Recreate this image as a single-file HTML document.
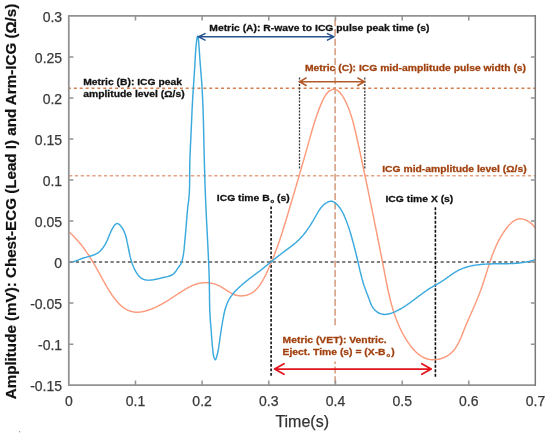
<!DOCTYPE html>
<html><head><meta charset="utf-8">
<style>
html,body{margin:0;padding:0;background:#fff;}
body{width:550px;height:435px;overflow:hidden;}
svg{display:block;}
.tk text{font-family:"Liberation Sans",Arial,sans-serif;font-size:14px;fill:#3a3a3a;stroke:#3a3a3a;stroke-width:0.25px;}
.an{font-family:"Liberation Sans",Arial,sans-serif;font-size:10.35px;font-weight:bold;}
</style></head><body>
<svg width="550" height="435" viewBox="0 0 550 435">
<rect width="550" height="435" fill="#fff"/>
<!-- reference lines -->
<path d="M68.8 88.3H535.5" stroke="#d5804c" stroke-width="1.5" stroke-dasharray="3 2.89" stroke-dashoffset="0.87" fill="none"/>
<path d="M68.8 175.8H535.5" stroke="#e3a384" stroke-width="1.5" stroke-dasharray="3.3 2.508" stroke-dashoffset="-0.25" fill="none"/>
<path d="M68.8 262.1H535.5" stroke="#555" stroke-width="1.5" stroke-dasharray="3.2 2.59" stroke-dashoffset="-1.21" fill="none"/>
<path d="M335.1 15.9V385.2" stroke="#cf9272" stroke-width="1.4" stroke-dasharray="7 2.644" stroke-dashoffset="-3.47" fill="none"/>
<path d="M299.5 77.5V170M364.8 77.5V170" stroke="#3a3a3a" stroke-width="1.3" stroke-dasharray="2 1.3" fill="none"/>
<path d="M271.1 206.5V376" stroke="#111" stroke-width="1.6" stroke-dasharray="2.8 1.7" fill="none"/>
<path d="M435.4 207.2V377.4" stroke="#111" stroke-width="1.6" stroke-dasharray="3.1 1.4" fill="none"/>
<!-- curves -->
<path d="M68.9 231.8 L69.5 232.3 70.0 232.8 70.5 233.3 71.0 233.8 71.6 234.3 72.1 234.8 72.6 235.3 73.1 235.8 73.6 236.3 74.0 236.8 74.5 237.3 75.0 237.8 75.5 238.3 75.9 238.8 76.4 239.3 76.9 239.8 77.3 240.3 77.8 240.8 78.2 241.3 78.6 241.8 79.1 242.3 79.5 242.8 79.9 243.3 80.4 243.8 80.8 244.3 81.2 244.8 81.6 245.4 82.0 245.9 82.4 246.4 82.8 246.9 83.2 247.4 83.6 247.9 84.0 248.5 84.4 249.0 84.7 249.5 85.1 250.0 85.5 250.6 85.9 251.1 86.2 251.6 86.6 252.1 87.0 252.7 87.3 253.2 87.7 253.7 88.0 254.3 88.4 254.8 88.7 255.3 89.1 255.9 89.4 256.4 89.8 256.9 90.1 257.5 90.5 258.0 90.8 258.6 91.1 259.1 91.5 259.7 91.8 260.2 92.1 260.8 92.5 261.3 92.8 261.9 93.1 262.4 93.5 263.0 93.8 263.5 94.1 264.1 94.4 264.6 94.8 265.2 95.1 265.8 95.4 266.3 95.7 266.9 96.1 267.5 96.4 268.0 96.7 268.6 97.0 269.2 97.3 269.8 97.7 270.3 98.0 270.9 98.3 271.5 98.6 272.1 99.0 272.7 99.3 273.2 99.6 273.8 99.9 274.4 100.3 275.0 100.6 275.6 100.9 276.2 101.2 276.8 101.6 277.4 101.9 278.0 102.2 278.6 102.6 279.2 102.9 279.8 103.2 280.4 103.6 281.0 103.9 281.6 104.3 282.2 104.6 282.9 104.9 283.5 105.3 284.1 105.6 284.7 106.0 285.3 106.4 285.9 106.7 286.5 107.1 287.2 107.4 287.8 107.8 288.4 108.2 289.0 108.5 289.6 108.9 290.2 109.3 290.8 109.7 291.4 110.0 292.0 110.4 292.6 110.8 293.2 111.2 293.8 111.6 294.4 112.0 295.0 112.4 295.6 112.8 296.1 113.2 296.7 113.6 297.3 114.0 297.8 114.4 298.4 114.8 298.9 115.3 299.4 115.7 300.0 116.1 300.5 116.5 301.0 117.0 301.5 117.4 302.0 117.9 302.5 118.3 303.0 118.8 303.5 119.2 303.9 119.7 304.4 120.2 304.8 120.6 305.3 121.1 305.7 121.6 306.1 122.1 306.5 122.6 306.9 123.1 307.3 123.6 307.6 124.1 308.0 124.6 308.3 125.1 308.7 125.6 309.0 126.1 309.3 126.7 309.6 127.2 309.9 127.8 310.1 128.3 310.4 128.9 310.6 129.4 310.8 130.0 311.0 130.5 311.2 131.1 311.4 131.7 311.6 132.3 311.7 132.9 311.8 133.5 311.9 134.1 312.0 134.7 312.1 135.3 312.2 135.9 312.2 136.6 312.2 137.2 312.2 137.9 312.2 138.5 312.2 139.2 312.1 139.8 312.1 140.5 312.0 141.1 311.9 141.8 311.8 142.5 311.7 143.1 311.5 143.8 311.4 144.5 311.2 145.2 311.1 145.8 310.9 146.5 310.7 147.2 310.5 147.9 310.3 148.6 310.0 149.2 309.8 149.9 309.6 150.6 309.3 151.3 309.1 151.9 308.8 152.6 308.5 153.2 308.2 153.9 308.0 154.6 307.7 155.2 307.4 155.9 307.1 156.5 306.8 157.1 306.5 157.8 306.2 158.4 305.9 159.0 305.5 159.6 305.2 160.2 304.9 160.8 304.6 161.4 304.3 162.0 304.0 162.5 303.6 163.1 303.3 163.7 303.0 164.2 302.7 164.8 302.3 165.4 302.0 165.9 301.7 166.5 301.3 167.0 301.0 167.6 300.6 168.1 300.3 168.6 300.0 169.2 299.6 169.7 299.3 170.2 298.9 170.8 298.6 171.3 298.2 171.9 297.9 172.4 297.5 172.9 297.2 173.5 296.8 174.0 296.5 174.5 296.1 175.1 295.8 175.6 295.4 176.2 295.0 176.7 294.7 177.3 294.3 177.8 293.9 178.4 293.6 178.9 293.2 179.5 292.8 180.1 292.5 180.7 292.1 181.2 291.7 181.8 291.4 182.4 291.0 183.0 290.6 183.6 290.3 184.2 289.9 184.8 289.5 185.4 289.2 186.0 288.9 186.6 288.5 187.2 288.2 187.8 287.8 188.4 287.5 189.0 287.2 189.6 286.9 190.3 286.6 190.9 286.3 191.5 286.0 192.1 285.7 192.7 285.4 193.4 285.2 194.0 284.9 194.6 284.7 195.3 284.5 195.9 284.2 196.5 284.0 197.2 283.9 197.8 283.7 198.4 283.5 199.1 283.4 199.7 283.2 200.4 283.1 201.0 283.0 201.6 282.9 202.3 282.8 202.9 282.7 203.6 282.7 204.2 282.7 204.8 282.6 205.5 282.6 206.1 282.6 206.8 282.6 207.4 282.7 208.0 282.7 208.7 282.8 209.3 282.9 209.9 282.9 210.6 283.1 211.2 283.2 211.8 283.3 212.5 283.4 213.1 283.6 213.7 283.8 214.3 283.9 215.0 284.1 215.6 284.4 216.2 284.6 216.8 284.8 217.4 285.1 218.0 285.3 218.6 285.6 219.3 285.9 219.9 286.2 220.5 286.5 221.0 286.8 221.6 287.2 222.2 287.5 222.8 287.9 223.4 288.3 224.0 288.6 224.6 289.0 225.2 289.4 225.8 289.8 226.3 290.2 226.9 290.5 227.5 290.9 228.1 291.3 228.7 291.7 229.3 292.0 229.9 292.4 230.5 292.7 231.1 293.1 231.7 293.4 232.3 293.7 232.9 294.0 233.5 294.3 234.1 294.5 234.8 294.8 235.4 295.0 236.0 295.2 236.7 295.3 237.3 295.5 238.0 295.6 238.6 295.7 239.3 295.8 240.0 295.8 240.6 295.9 241.3 295.9 241.9 295.9 242.6 295.8 243.3 295.8 243.9 295.7 244.6 295.6 245.2 295.5 245.8 295.4 246.5 295.2 247.1 295.0 247.7 294.9 248.3 294.6 248.9 294.4 249.5 294.2 250.1 293.9 250.6 293.6 251.2 293.3 251.7 293.0 252.2 292.7 252.8 292.3 253.3 292.0 253.8 291.6 254.3 291.2 254.7 290.8 255.2 290.4 255.7 289.9 256.1 289.5 256.6 289.0 257.0 288.5 257.5 288.1 257.9 287.6 258.3 287.1 258.7 286.6 259.1 286.0 259.5 285.5 259.9 285.0 260.3 284.4 260.6 283.9 261.0 283.3 261.4 282.7 261.7 282.1 262.1 281.6 262.4 281.0 262.8 280.4 263.1 279.8 263.4 279.2 263.8 278.5 264.1 277.9 264.4 277.3 264.7 276.7 265.1 276.1 265.4 275.4 265.7 274.8 266.0 274.2 266.3 273.6 266.6 272.9 266.9 272.3 267.2 271.7 267.5 271.1 267.7 270.4 268.0 269.8 268.3 269.2 268.6 268.5 268.9 267.9 269.2 267.3 269.4 266.7 269.7 266.0 270.0 265.4 270.3 264.8 270.5 264.2 270.8 263.5 271.1 262.9 271.3 262.3 271.6 261.7 271.8 261.0 272.1 260.4 272.4 259.8 272.6 259.2 272.9 258.5 273.1 257.9 273.4 257.3 273.6 256.7 273.9 256.0 274.1 255.4 274.4 254.8 274.6 254.2 274.8 253.5 275.1 252.9 275.3 252.3 275.6 251.7 275.8 251.1 276.0 250.4 276.2 249.8 276.5 249.2 276.7 248.6 276.9 247.9 277.2 247.3 277.4 246.7 277.6 246.1 277.8 245.4 278.1 244.8 278.3 244.2 278.5 243.6 278.7 242.9 278.9 242.3 279.1 241.7 279.4 241.1 279.6 240.5 279.8 239.8 280.0 239.2 280.2 238.6 280.4 238.0 280.6 237.3 280.8 236.7 281.0 236.1 281.2 235.5 281.4 234.8 281.6 234.2 281.8 233.6 282.0 233.0 282.3 232.3 282.5 231.7 282.7 231.1 282.8 230.5 283.0 229.8 283.2 229.2 283.4 228.6 283.6 227.9 283.8 227.3 284.0 226.7 284.2 226.1 284.4 225.4 284.6 224.8 284.8 224.2 285.0 223.5 285.2 222.9 285.4 222.3 285.6 221.7 285.8 221.0 286.0 220.4 286.1 219.8 286.3 219.1 286.5 218.5 286.7 217.9 286.9 217.2 287.1 216.6 287.3 216.0 287.5 215.3 287.7 214.7 287.8 214.1 288.0 213.4 288.2 212.8 288.4 212.2 288.6 211.5 288.8 210.9 289.0 210.2 289.2 209.6 289.4 209.0 289.5 208.3 289.7 207.7 289.9 207.1 290.1 206.4 290.3 205.8 290.5 205.1 290.7 204.5 290.9 203.8 291.0 203.2 291.2 202.6 291.4 201.9 291.6 201.3 291.8 200.6 292.0 200.0 292.2 199.3 292.4 198.7 292.6 198.0 292.8 197.4 292.9 196.8 293.1 196.1 293.3 195.5 293.5 194.8 293.7 194.2 293.9 193.5 294.1 192.9 294.3 192.2 294.5 191.6 294.7 190.9 294.9 190.3 295.0 189.6 295.2 189.0 295.4 188.3 295.6 187.7 295.8 187.0 296.0 186.4 296.2 185.7 296.4 185.1 296.6 184.4 296.8 183.8 296.9 183.1 297.1 182.5 297.3 181.8 297.5 181.2 297.7 180.5 297.9 179.9 298.1 179.2 298.3 178.6 298.5 177.9 298.7 177.3 298.8 176.6 299.0 176.0 299.2 175.3 299.4 174.7 299.6 174.0 299.8 173.4 300.0 172.7 300.2 172.1 300.4 171.4 300.5 170.8 300.7 170.1 300.9 169.5 301.1 168.9 301.3 168.2 301.5 167.6 301.7 166.9 301.9 166.3 302.0 165.6 302.2 165.0 302.4 164.3 302.6 163.7 302.8 163.0 303.0 162.4 303.2 161.8 303.3 161.1 303.5 160.5 303.7 159.8 303.9 159.2 304.1 158.5 304.3 157.9 304.4 157.3 304.6 156.6 304.8 156.0 305.0 155.3 305.2 154.7 305.4 154.1 305.5 153.4 305.7 152.8 305.9 152.2 306.1 151.5 306.3 150.9 306.4 150.3 306.6 149.6 306.8 149.0 307.0 148.4 307.2 147.7 307.3 147.1 307.5 146.5 307.7 145.8 307.9 145.2 308.0 144.6 308.2 144.0 308.4 143.3 308.6 142.7 308.7 142.1 308.9 141.5 309.1 140.8 309.3 140.2 309.4 139.6 309.6 139.0 309.8 138.4 310.0 137.7 310.1 137.1 310.3 136.5 310.5 135.9 310.7 135.3 310.8 134.6 311.0 134.0 311.2 133.4 311.4 132.8 311.5 132.2 311.7 131.6 311.9 130.9 312.1 130.3 312.2 129.7 312.4 129.1 312.6 128.4 312.8 127.8 313.0 127.2 313.2 126.6 313.4 126.0 313.5 125.3 313.7 124.7 313.9 124.1 314.1 123.4 314.3 122.8 314.5 122.2 314.7 121.5 314.9 120.9 315.1 120.3 315.3 119.6 315.6 119.0 315.8 118.3 316.0 117.7 316.2 117.1 316.4 116.4 316.7 115.7 316.9 115.1 317.1 114.4 317.3 113.8 317.6 113.1 317.8 112.5 318.1 111.8 318.3 111.1 318.6 110.4 318.8 109.8 319.1 109.1 319.3 108.4 319.6 107.7 319.9 107.0 320.2 106.4 320.4 105.7 320.7 105.0 321.0 104.3 321.3 103.6 321.6 102.9 321.9 102.2 322.2 101.5 322.5 100.8 322.8 100.1 323.2 99.4 323.5 98.8 323.8 98.1 324.2 97.5 324.5 96.9 324.9 96.3 325.2 95.7 325.6 95.1 326.0 94.5 326.4 94.0 326.8 93.5 327.2 93.0 327.6 92.5 328.0 92.1 328.5 91.7 328.9 91.3 329.4 90.9 329.8 90.6 330.3 90.3 330.8 90.1 331.3 89.8 331.8 89.6 332.3 89.5 332.8 89.4 333.3 89.3 333.8 89.3 334.2 89.3 334.7 89.4 335.2 89.5 335.7 89.6 336.2 89.8 336.6 90.0 337.1 90.2 337.5 90.5 338.0 90.8 338.4 91.2 338.8 91.5 339.3 91.9 339.7 92.3 340.1 92.8 340.5 93.3 340.9 93.8 341.3 94.3 341.7 94.8 342.1 95.4 342.5 95.9 342.9 96.5 343.2 97.1 343.6 97.7 344.0 98.4 344.3 99.0 344.6 99.6 345.0 100.3 345.3 100.9 345.6 101.6 346.0 102.3 346.3 102.9 346.6 103.6 346.9 104.3 347.2 104.9 347.5 105.6 347.7 106.3 348.0 106.9 348.3 107.6 348.6 108.2 348.8 108.9 349.1 109.6 349.3 110.2 349.6 110.9 349.8 111.5 350.0 112.2 350.2 112.8 350.5 113.5 350.7 114.1 350.9 114.8 351.1 115.4 351.3 116.1 351.5 116.7 351.7 117.3 351.9 118.0 352.1 118.6 352.3 119.3 352.5 119.9 352.7 120.6 352.8 121.2 353.0 121.8 353.2 122.5 353.3 123.1 353.5 123.7 353.7 124.4 353.8 125.0 354.0 125.7 354.2 126.3 354.3 126.9 354.5 127.6 354.6 128.2 354.8 128.9 354.9 129.5 355.1 130.1 355.2 130.8 355.4 131.4 355.5 132.0 355.7 132.7 355.8 133.3 355.9 134.0 356.1 134.6 356.2 135.2 356.4 135.9 356.5 136.5 356.7 137.2 356.8 137.8 357.0 138.4 357.1 139.1 357.2 139.7 357.4 140.4 357.5 141.0 357.7 141.7 357.8 142.3 358.0 142.9 358.1 143.6 358.2 144.2 358.4 144.9 358.5 145.5 358.7 146.2 358.8 146.8 359.0 147.5 359.1 148.1 359.2 148.8 359.4 149.4 359.5 150.0 359.7 150.7 359.8 151.3 359.9 152.0 360.1 152.6 360.2 153.3 360.4 153.9 360.5 154.6 360.6 155.2 360.8 155.9 360.9 156.5 361.1 157.2 361.2 157.8 361.3 158.5 361.5 159.1 361.6 159.8 361.8 160.5 361.9 161.1 362.0 161.8 362.2 162.4 362.3 163.1 362.5 163.7 362.6 164.4 362.7 165.0 362.9 165.7 363.0 166.3 363.2 167.0 363.3 167.6 363.4 168.3 363.6 168.9 363.7 169.6 363.8 170.3 364.0 170.9 364.1 171.6 364.3 172.2 364.4 172.9 364.5 173.5 364.7 174.2 364.8 174.8 365.0 175.5 365.1 176.2 365.2 176.8 365.4 177.5 365.5 178.1 365.6 178.8 365.8 179.4 365.9 180.1 366.0 180.7 366.2 181.4 366.3 182.1 366.5 182.7 366.6 183.4 366.7 184.0 366.9 184.7 367.0 185.3 367.1 186.0 367.3 186.6 367.4 187.3 367.5 188.0 367.7 188.6 367.8 189.3 368.0 189.9 368.1 190.6 368.2 191.2 368.4 191.9 368.5 192.6 368.6 193.2 368.8 193.9 368.9 194.5 369.0 195.2 369.2 195.8 369.3 196.5 369.4 197.1 369.6 197.8 369.7 198.5 369.8 199.1 370.0 199.8 370.1 200.4 370.2 201.1 370.4 201.7 370.5 202.4 370.6 203.0 370.8 203.7 370.9 204.4 371.1 205.0 371.2 205.7 371.3 206.3 371.5 207.0 371.6 207.6 371.7 208.3 371.9 208.9 372.0 209.6 372.1 210.2 372.3 210.9 372.4 211.6 372.5 212.2 372.7 212.9 372.8 213.5 372.9 214.2 373.1 214.8 373.2 215.5 373.3 216.1 373.5 216.8 373.6 217.4 373.7 218.1 373.8 218.7 374.0 219.4 374.1 220.1 374.2 220.7 374.4 221.4 374.5 222.0 374.6 222.7 374.8 223.3 374.9 224.0 375.0 224.6 375.2 225.3 375.3 225.9 375.4 226.6 375.6 227.2 375.7 227.9 375.8 228.5 376.0 229.2 376.1 229.9 376.2 230.5 376.4 231.2 376.5 231.8 376.6 232.5 376.7 233.1 376.9 233.8 377.0 234.4 377.1 235.1 377.3 235.7 377.4 236.4 377.5 237.0 377.7 237.7 377.8 238.3 377.9 239.0 378.1 239.7 378.2 240.3 378.3 241.0 378.4 241.6 378.6 242.3 378.7 242.9 378.8 243.6 379.0 244.2 379.1 244.9 379.2 245.5 379.4 246.2 379.5 246.8 379.6 247.5 379.7 248.1 379.9 248.8 380.0 249.5 380.1 250.1 380.3 250.8 380.4 251.4 380.5 252.1 380.6 252.7 380.8 253.4 380.9 254.0 381.0 254.7 381.2 255.3 381.3 256.0 381.4 256.6 381.5 257.3 381.7 258.0 381.8 258.6 381.9 259.3 382.1 259.9 382.2 260.6 382.3 261.2 382.4 261.9 382.6 262.5 382.7 263.2 382.8 263.8 383.0 264.5 383.1 265.1 383.2 265.8 383.3 266.5 383.5 267.1 383.6 267.8 383.7 268.4 383.8 269.1 384.0 269.7 384.1 270.4 384.2 271.0 384.4 271.7 384.5 272.4 384.6 273.0 384.7 273.7 384.9 274.3 385.0 275.0 385.1 275.6 385.2 276.3 385.4 276.9 385.5 277.6 385.6 278.3 385.8 278.9 385.9 279.6 386.0 280.2 386.1 280.9 386.3 281.5 386.4 282.2 386.5 282.8 386.7 283.5 386.8 284.2 386.9 284.8 387.1 285.5 387.2 286.1 387.3 286.8 387.5 287.4 387.6 288.1 387.7 288.7 387.9 289.4 388.0 290.0 388.2 290.7 388.3 291.3 388.5 292.0 388.6 292.6 388.7 293.3 388.9 293.9 389.0 294.6 389.2 295.2 389.3 295.9 389.5 296.5 389.6 297.2 389.8 297.8 390.0 298.5 390.1 299.1 390.3 299.8 390.4 300.4 390.6 301.1 390.8 301.7 390.9 302.4 391.1 303.0 391.3 303.6 391.5 304.3 391.6 304.9 391.8 305.6 392.0 306.2 392.2 306.8 392.4 307.5 392.6 308.1 392.7 308.8 392.9 309.4 393.1 310.0 393.3 310.7 393.5 311.3 393.7 311.9 393.9 312.6 394.1 313.2 394.3 313.8 394.6 314.5 394.8 315.1 395.0 315.7 395.2 316.3 395.4 317.0 395.7 317.6 395.9 318.2 396.1 318.8 396.4 319.5 396.6 320.1 396.8 320.7 397.1 321.3 397.3 321.9 397.6 322.6 397.8 323.2 398.1 323.8 398.4 324.4 398.6 325.0 398.9 325.6 399.2 326.2 399.4 326.8 399.7 327.5 400.0 328.1 400.3 328.7 400.6 329.3 400.9 329.9 401.2 330.5 401.5 331.1 401.8 331.7 402.1 332.3 402.4 332.9 402.7 333.5 403.0 334.1 403.4 334.7 403.7 335.2 404.0 335.8 404.4 336.4 404.7 337.0 405.0 337.6 405.4 338.2 405.8 338.8 406.1 339.3 406.5 339.9 406.8 340.5 407.2 341.1 407.6 341.7 408.0 342.2 408.4 342.8 408.8 343.4 409.2 343.9 409.6 344.5 410.0 345.1 410.4 345.6 410.8 346.2 411.2 346.7 411.6 347.2 412.1 347.8 412.5 348.3 413.0 348.8 413.4 349.3 413.9 349.8 414.3 350.3 414.8 350.8 415.3 351.3 415.7 351.8 416.2 352.2 416.7 352.7 417.2 353.1 417.7 353.6 418.2 354.0 418.7 354.4 419.2 354.8 419.7 355.2 420.3 355.5 420.8 355.9 421.3 356.3 421.9 356.6 422.4 356.9 423.0 357.2 423.6 357.5 424.1 357.8 424.7 358.0 425.3 358.3 425.9 358.5 426.5 358.7 427.1 358.9 427.7 359.0 428.3 359.2 429.0 359.3 429.6 359.4 430.2 359.5 430.9 359.6 431.5 359.7 432.2 359.7 432.8 359.7 433.5 359.7 434.1 359.7 434.8 359.7 435.4 359.6 436.1 359.6 436.8 359.5 437.4 359.4 438.1 359.3 438.7 359.2 439.4 359.0 440.1 358.8 440.7 358.7 441.4 358.5 442.0 358.3 442.6 358.0 443.3 357.8 443.9 357.6 444.5 357.3 445.1 357.0 445.7 356.7 446.3 356.4 446.9 356.1 447.5 355.7 448.0 355.4 448.6 355.0 449.1 354.6 449.7 354.2 450.2 353.8 450.7 353.4 451.2 353.0 451.7 352.6 452.1 352.1 452.6 351.6 453.0 351.2 453.5 350.7 453.9 350.2 454.3 349.7 454.7 349.2 455.1 348.6 455.5 348.1 455.8 347.5 456.2 347.0 456.5 346.4 456.9 345.9 457.2 345.3 457.6 344.7 457.9 344.1 458.2 343.5 458.5 342.9 458.8 342.3 459.1 341.7 459.4 341.1 459.7 340.5 460.0 339.9 460.2 339.2 460.5 338.6 460.8 338.0 461.1 337.3 461.3 336.7 461.6 336.1 461.8 335.4 462.1 334.8 462.4 334.1 462.6 333.5 462.9 332.9 463.1 332.2 463.4 331.6 463.6 330.9 463.9 330.3 464.1 329.6 464.4 329.0 464.6 328.4 464.9 327.7 465.2 327.1 465.4 326.5 465.7 325.9 465.9 325.2 466.2 324.6 466.5 324.0 466.7 323.4 467.0 322.7 467.3 322.1 467.5 321.5 467.8 320.9 468.0 320.3 468.3 319.6 468.6 319.0 468.8 318.4 469.1 317.8 469.4 317.2 469.7 316.6 469.9 316.0 470.2 315.4 470.5 314.8 470.7 314.2 471.0 313.6 471.3 312.9 471.5 312.3 471.8 311.7 472.1 311.1 472.3 310.5 472.6 309.9 472.9 309.3 473.1 308.7 473.4 308.1 473.7 307.5 473.9 306.9 474.2 306.3 474.4 305.7 474.7 305.1 475.0 304.5 475.2 303.9 475.5 303.3 475.7 302.7 476.0 302.1 476.3 301.5 476.5 300.9 476.8 300.3 477.0 299.7 477.3 299.0 477.5 298.4 477.8 297.8 478.0 297.2 478.3 296.6 478.5 296.0 478.7 295.4 479.0 294.8 479.2 294.2 479.5 293.5 479.7 292.9 479.9 292.3 480.2 291.7 480.4 291.1 480.6 290.5 480.9 289.8 481.1 289.2 481.3 288.6 481.5 288.0 481.7 287.3 482.0 286.7 482.2 286.1 482.4 285.4 482.6 284.8 482.8 284.2 483.0 283.5 483.2 282.9 483.4 282.3 483.7 281.6 483.9 281.0 484.1 280.4 484.3 279.7 484.5 279.1 484.7 278.4 484.9 277.8 485.1 277.2 485.3 276.5 485.5 275.9 485.7 275.2 485.9 274.6 486.1 274.0 486.3 273.3 486.5 272.7 486.7 272.0 486.9 271.4 487.1 270.7 487.3 270.1 487.5 269.5 487.7 268.8 487.9 268.2 488.1 267.5 488.3 266.9 488.5 266.2 488.7 265.6 489.0 265.0 489.2 264.3 489.4 263.7 489.6 263.0 489.8 262.4 490.0 261.8 490.2 261.1 490.4 260.5 490.7 259.8 490.9 259.2 491.1 258.6 491.3 257.9 491.6 257.3 491.8 256.7 492.0 256.0 492.2 255.4 492.5 254.8 492.7 254.1 493.0 253.5 493.2 252.9 493.4 252.3 493.7 251.6 493.9 251.0 494.2 250.4 494.4 249.8 494.7 249.2 495.0 248.5 495.2 247.9 495.5 247.3 495.8 246.7 496.0 246.1 496.3 245.5 496.6 244.9 496.9 244.3 497.1 243.7 497.4 243.1 497.7 242.5 498.0 241.9 498.3 241.3 498.6 240.7 498.9 240.1 499.3 239.5 499.6 238.9 499.9 238.3 500.2 237.7 500.6 237.2 500.9 236.6 501.2 236.0 501.6 235.4 501.9 234.9 502.3 234.3 502.6 233.7 503.0 233.2 503.4 232.6 503.7 232.1 504.1 231.5 504.5 231.0 504.9 230.4 505.3 229.9 505.7 229.3 506.1 228.8 506.5 228.2 506.9 227.7 507.3 227.2 507.8 226.7 508.2 226.1 508.6 225.6 509.1 225.1 509.5 224.6 510.0 224.2 510.5 223.7 510.9 223.2 511.4 222.8 511.9 222.4 512.4 222.0 512.9 221.6 513.4 221.2 513.9 220.9 514.5 220.6 515.0 220.3 515.5 220.0 516.1 219.7 516.6 219.5 517.2 219.3 517.8 219.2 518.3 219.0 518.9 218.9 519.5 218.9 520.1 218.8 520.8 218.8 521.4 218.9 522.0 218.9 522.6 219.1 523.3 219.2 523.9 219.4 524.6 219.6 525.2 219.8 525.9 220.1 526.5 220.4 527.2 220.7 527.8 221.1 528.4 221.5 529.0 221.9 529.7 222.3 530.2 222.7 530.8 223.2 531.4 223.6 531.9 224.1 532.5 224.6 533.0 225.1 533.5 225.7 533.9 226.2 534.4 226.8 534.8 227.3 535.2 227.9 535.5 228.5" stroke="#fc9a7b" stroke-width="1.45" fill="none" stroke-linejoin="round"/>
<path d="M68.8 262.5 L69.5 262.4 70.1 262.4 70.8 262.3 71.4 262.1 72.1 262.0 72.7 261.9 73.4 261.7 74.0 261.5 74.6 261.3 75.3 261.1 75.9 260.9 76.5 260.6 77.1 260.4 77.8 260.2 78.4 259.9 79.0 259.7 79.6 259.4 80.3 259.2 80.9 258.9 81.5 258.7 82.2 258.5 82.8 258.2 83.4 258.0 84.1 257.8 84.7 257.6 85.3 257.4 86.0 257.3 86.6 257.1 87.3 256.9 87.9 256.7 88.5 256.6 89.2 256.4 89.8 256.2 90.4 256.0 91.1 255.9 91.7 255.7 92.3 255.5 92.9 255.3 93.5 255.1 94.1 254.8 94.7 254.6 95.3 254.3 95.9 254.0 96.4 253.7 97.0 253.4 97.6 253.1 98.1 252.7 98.6 252.3 99.2 251.9 99.7 251.5 100.2 251.0 100.6 250.5 101.1 250.0 101.6 249.5 102.0 249.0 102.5 248.4 102.9 247.9 103.3 247.3 103.7 246.7 104.1 246.1 104.5 245.5 104.9 244.9 105.2 244.3 105.6 243.7 105.9 243.1 106.2 242.5 106.5 241.9 106.8 241.3 107.0 240.7 107.3 240.1 107.6 239.6 107.8 239.0 108.1 238.4 108.3 237.8 108.5 237.2 108.8 236.6 109.0 236.0 109.2 235.4 109.5 234.9 109.7 234.3 110.0 233.7 110.2 233.1 110.5 232.5 110.8 231.9 111.0 231.2 111.3 230.6 111.7 230.0 112.0 229.4 112.3 228.8 112.7 228.1 113.1 227.5 113.5 226.8 113.9 226.2 114.3 225.6 114.8 225.0 115.2 224.5 115.7 224.1 116.2 223.8 116.7 223.6 117.2 223.5 117.8 223.6 118.3 223.8 118.8 224.1 119.3 224.5 119.8 225.0 120.3 225.5 120.8 226.1 121.2 226.7 121.7 227.2 122.1 227.8 122.5 228.4 122.8 229.0 123.2 229.6 123.5 230.2 123.8 230.8 124.1 231.4 124.3 232.1 124.6 232.7 124.8 233.3 125.1 233.9 125.3 234.5 125.5 235.2 125.7 235.8 125.9 236.4 126.0 237.1 126.2 237.7 126.4 238.4 126.5 239.0 126.7 239.6 126.8 240.3 126.9 240.9 127.1 241.6 127.2 242.2 127.4 242.9 127.5 243.6 127.6 244.2 127.8 244.9 127.9 245.5 128.0 246.2 128.1 246.8 128.3 247.5 128.4 248.2 128.5 248.8 128.7 249.5 128.8 250.1 128.9 250.8 129.1 251.5 129.2 252.1 129.3 252.8 129.5 253.4 129.6 254.1 129.8 254.8 129.9 255.4 130.1 256.1 130.2 256.7 130.4 257.4 130.6 258.0 130.7 258.7 130.9 259.3 131.1 260.0 131.3 260.6 131.5 261.2 131.7 261.9 131.9 262.5 132.1 263.1 132.3 263.8 132.5 264.4 132.7 265.0 133.0 265.6 133.2 266.2 133.5 266.9 133.7 267.5 134.0 268.1 134.3 268.7 134.6 269.3 134.9 269.9 135.2 270.4 135.5 271.0 135.8 271.6 136.2 272.2 136.5 272.7 136.9 273.3 137.3 273.9 137.6 274.4 138.0 274.9 138.5 275.5 138.9 276.0 139.3 276.5 139.8 276.9 140.3 277.4 140.8 277.8 141.3 278.2 141.8 278.5 142.4 278.8 143.0 279.1 143.6 279.4 144.2 279.6 144.8 279.8 145.5 279.9 146.2 280.0 146.8 280.1 147.5 280.1 148.2 280.2 149.0 280.1 149.7 280.1 150.4 280.1 151.1 280.0 151.8 279.9 152.5 279.9 153.2 279.8 153.8 279.7 154.5 279.5 155.1 279.4 155.8 279.3 156.4 279.2 157.0 279.0 157.6 278.9 158.3 278.7 158.9 278.6 159.5 278.5 160.1 278.3 160.7 278.1 161.4 278.0 162.0 277.8 162.7 277.7 163.3 277.5 164.0 277.4 164.6 277.2 165.3 277.1 166.0 276.9 166.7 276.8 167.4 276.6 168.1 276.4 168.7 276.2 169.4 276.0 170.0 275.8 170.7 275.5 171.3 275.3 171.9 275.0 172.4 274.6 173.0 274.3 173.5 273.9 174.0 273.5 174.4 273.0 174.8 272.5 175.2 272.0 175.6 271.5 176.0 271.0 176.4 270.4 176.7 269.9 177.1 269.3 177.5 268.7 177.8 268.2 178.2 267.6 178.6 267.1 179.0 266.5 179.4 266.0 179.8 265.5 180.2 264.9 180.6 264.4 180.9 263.8 181.2 263.2 181.4 262.6 181.6 261.9 181.8 261.3 182.0 260.7 182.2 260.0 182.4 259.4 182.6 258.7 182.7 258.1 182.8 257.4 183.0 256.8 183.1 256.1 183.2 255.5 183.3 254.8 183.5 254.1 183.6 253.5 183.6 252.8 183.7 252.2 183.8 251.5 183.9 250.8 184.0 250.2 184.0 249.5 184.1 248.9 184.2 248.2 184.2 247.5 184.3 246.9 184.4 246.2 184.4 245.5 184.5 244.9 184.5 244.2 184.6 243.5 184.7 242.9 184.7 242.2 184.8 241.5 184.8 240.9 184.9 240.2 185.0 239.5 185.0 238.9 185.1 238.2 185.1 237.5 185.2 236.9 185.3 236.2 185.3 235.6 185.4 234.9 185.4 234.2 185.5 233.6 185.6 232.9 185.6 232.2 185.7 231.6 185.7 230.9 185.8 230.2 185.8 229.6 185.9 228.9 186.0 228.2 186.0 227.6 186.1 226.9 186.1 226.3 186.2 225.6 186.3 224.9 186.3 224.3 186.4 223.6 186.4 222.9 186.5 222.3 186.5 221.6 186.6 220.9 186.6 220.3 186.7 219.6 186.7 218.9 186.8 218.3 186.9 217.6 186.9 216.9 187.0 216.3 187.0 215.6 187.1 214.9 187.1 214.3 187.2 213.6 187.2 213.0 187.3 212.3 187.3 211.6 187.4 211.0 187.5 210.3 187.5 209.6 187.6 209.0 187.7 208.3 187.7 207.6 187.8 207.0 187.9 206.3 188.0 205.7 188.1 205.0 188.2 204.3 188.2 203.7 188.3 203.0 188.4 202.3 188.5 201.7 188.6 201.0 188.7 200.4 188.7 199.7 188.8 199.0 188.9 198.4 188.9 197.7 189.0 197.0 189.1 196.4 189.1 195.7 189.2 195.1 189.2 194.4 189.3 193.7 189.3 193.1 189.3 192.4 189.4 191.7 189.4 191.1 189.4 190.4 189.5 189.7 189.5 189.1 189.5 188.4 189.5 187.7 189.5 187.1 189.6 186.4 189.6 185.7 189.6 185.1 189.6 184.4 189.6 183.7 189.6 183.1 189.6 182.4 189.6 181.7 189.6 181.0 189.6 180.4 189.7 179.7 189.7 179.0 189.7 178.4 189.7 177.7 189.7 177.0 189.7 176.4 189.7 175.7 189.7 175.0 189.7 174.4 189.7 173.7 189.7 173.0 189.7 172.4 189.7 171.7 189.7 171.0 189.7 170.4 189.7 169.7 189.7 169.0 189.7 168.4 189.7 167.7 189.7 167.0 189.7 166.3 189.8 165.7 189.8 165.0 189.8 164.3 189.8 163.7 189.8 163.0 189.8 162.3 189.8 161.7 189.9 161.0 189.9 160.3 189.9 159.7 189.9 159.0 189.9 158.3 190.0 157.7 190.0 157.0 190.0 156.3 190.0 155.7 190.1 155.0 190.1 154.3 190.1 153.7 190.1 153.0 190.2 152.4 190.2 151.7 190.2 151.0 190.3 150.4 190.3 149.7 190.3 149.0 190.3 148.4 190.4 147.7 190.4 147.0 190.4 146.4 190.5 145.7 190.5 145.0 190.5 144.4 190.6 143.7 190.6 143.0 190.6 142.4 190.7 141.7 190.7 141.0 190.7 140.4 190.8 139.7 190.8 139.0 190.8 138.4 190.9 137.7 190.9 137.0 190.9 136.4 190.9 135.7 191.0 135.0 191.0 134.4 191.0 133.7 191.1 133.0 191.1 132.3 191.1 131.7 191.2 131.0 191.2 130.3 191.2 129.7 191.2 129.0 191.3 128.3 191.3 127.7 191.3 127.0 191.4 126.3 191.4 125.7 191.4 125.0 191.4 124.3 191.5 123.7 191.5 123.0 191.5 122.3 191.6 121.7 191.6 121.0 191.6 120.3 191.7 119.6 191.7 119.0 191.7 118.3 191.7 117.6 191.8 117.0 191.8 116.3 191.8 115.6 191.9 115.0 191.9 114.3 191.9 113.6 191.9 113.0 192.0 112.3 192.0 111.6 192.0 111.0 192.1 110.3 192.1 109.6 192.1 109.0 192.2 108.3 192.2 107.6 192.2 107.0 192.3 106.3 192.3 105.7 192.3 105.0 192.4 104.3 192.4 103.7 192.4 103.0 192.5 102.3 192.5 101.7 192.5 101.0 192.6 100.4 192.6 99.7 192.7 99.0 192.7 98.4 192.7 97.7 192.8 97.1 192.8 96.4 192.9 95.7 192.9 95.1 192.9 94.4 193.0 93.8 193.0 93.1 193.1 92.4 193.1 91.8 193.1 91.1 193.2 90.5 193.2 89.8 193.3 89.1 193.3 88.5 193.4 87.8 193.4 87.1 193.4 86.5 193.5 85.8 193.5 85.1 193.6 84.5 193.6 83.8 193.7 83.1 193.7 82.5 193.8 81.8 193.8 81.1 193.9 80.4 193.9 79.8 193.9 79.1 194.0 78.4 194.0 77.7 194.1 77.0 194.1 76.3 194.2 75.7 194.2 75.0 194.3 74.3 194.3 73.6 194.4 72.9 194.4 72.2 194.4 71.5 194.5 70.9 194.5 70.2 194.6 69.5 194.6 68.8 194.7 68.2 194.7 67.5 194.7 66.8 194.8 66.2 194.8 65.5 194.9 64.9 194.9 64.3 194.9 63.6 195.0 63.0 195.0 62.4 195.0 61.8 195.1 61.2 195.1 60.6 195.1 60.0 195.1 59.4 195.2 58.8 195.2 58.2 195.2 57.6 195.3 57.0 195.3 56.4 195.3 55.8 195.4 55.2 195.4 54.6 195.5 53.9 195.5 53.3 195.5 52.6 195.6 51.9 195.7 51.2 195.7 50.5 195.8 49.8 195.8 49.0 195.9 48.2 196.0 47.4 196.1 46.5 196.1 45.7 196.2 44.8 196.3 43.9 196.4 42.9 196.5 42.0 196.6 41.2 196.7 40.3 196.8 39.5 197.0 38.8 197.1 38.1 197.2 37.5 197.3 37.0 197.4 36.6 197.5 36.3 197.6 36.1 197.7 36.1 197.8 36.2 197.9 36.5 198.0 36.8 198.1 37.3 198.2 37.9 198.3 38.5 198.4 39.3 198.5 40.0 198.6 40.9 198.7 41.7 198.7 42.6 198.8 43.5 198.9 44.5 198.9 45.4 199.0 46.3 199.1 47.1 199.1 47.9 199.2 48.7 199.2 49.5 199.3 50.3 199.3 51.0 199.4 51.7 199.4 52.4 199.5 53.1 199.5 53.8 199.6 54.4 199.6 55.1 199.7 55.7 199.7 56.3 199.7 56.9 199.8 57.5 199.8 58.1 199.9 58.7 199.9 59.3 199.9 59.9 200.0 60.5 200.0 61.1 200.1 61.7 200.1 62.3 200.2 62.9 200.2 63.5 200.2 64.1 200.3 64.8 200.3 65.4 200.4 66.0 200.5 66.7 200.5 67.3 200.6 68.0 200.6 68.6 200.7 69.3 200.7 69.9 200.8 70.6 200.8 71.3 200.9 71.9 200.9 72.6 201.0 73.3 201.1 74.0 201.1 74.6 201.2 75.3 201.2 76.0 201.3 76.7 201.3 77.4 201.4 78.0 201.4 78.7 201.5 79.4 201.5 80.1 201.6 80.8 201.6 81.4 201.7 82.1 201.7 82.8 201.8 83.5 201.8 84.1 201.9 84.8 201.9 85.5 201.9 86.2 202.0 86.8 202.0 87.5 202.1 88.2 202.1 88.9 202.2 89.5 202.2 90.2 202.2 90.9 202.3 91.5 202.3 92.2 202.3 92.9 202.4 93.6 202.4 94.2 202.4 94.9 202.5 95.6 202.5 96.2 202.5 96.9 202.6 97.6 202.6 98.2 202.6 98.9 202.7 99.6 202.7 100.3 202.7 100.9 202.7 101.6 202.8 102.3 202.8 102.9 202.8 103.6 202.9 104.3 202.9 104.9 202.9 105.6 202.9 106.3 203.0 106.9 203.0 107.6 203.0 108.3 203.0 108.9 203.1 109.6 203.1 110.2 203.1 110.9 203.1 111.6 203.1 112.2 203.2 112.9 203.2 113.6 203.2 114.2 203.2 114.9 203.2 115.6 203.3 116.2 203.3 116.9 203.3 117.6 203.3 118.2 203.3 118.9 203.4 119.6 203.4 120.2 203.4 120.9 203.4 121.5 203.4 122.2 203.4 122.9 203.5 123.5 203.5 124.2 203.5 124.9 203.5 125.5 203.5 126.2 203.5 126.9 203.6 127.5 203.6 128.2 203.6 128.8 203.6 129.5 203.6 130.2 203.6 130.8 203.6 131.5 203.7 132.2 203.7 132.8 203.7 133.5 203.7 134.2 203.7 134.8 203.7 135.5 203.8 136.2 203.8 136.8 203.8 137.5 203.8 138.1 203.8 138.8 203.8 139.5 203.8 140.1 203.9 140.8 203.9 141.5 203.9 142.1 203.9 142.8 203.9 143.5 203.9 144.1 204.0 144.8 204.0 145.5 204.0 146.1 204.0 146.8 204.0 147.5 204.0 148.1 204.0 148.8 204.1 149.5 204.1 150.1 204.1 150.8 204.1 151.5 204.1 152.1 204.1 152.8 204.2 153.5 204.2 154.1 204.2 154.8 204.2 155.5 204.2 156.1 204.2 156.8 204.3 157.5 204.3 158.1 204.3 158.8 204.3 159.5 204.3 160.1 204.3 160.8 204.4 161.5 204.4 162.1 204.4 162.8 204.4 163.5 204.4 164.1 204.4 164.8 204.5 165.5 204.5 166.1 204.5 166.8 204.5 167.5 204.5 168.1 204.5 168.8 204.6 169.5 204.6 170.1 204.6 170.8 204.6 171.5 204.6 172.2 204.7 172.8 204.7 173.5 204.7 174.2 204.7 174.8 204.7 175.5 204.8 176.2 204.8 176.8 204.8 177.5 204.8 178.2 204.8 178.8 204.9 179.5 204.9 180.2 204.9 180.8 204.9 181.5 204.9 182.2 205.0 182.8 205.0 183.5 205.0 184.2 205.0 184.8 205.1 185.5 205.1 186.2 205.1 186.8 205.1 187.5 205.2 188.2 205.2 188.8 205.2 189.5 205.2 190.2 205.2 190.8 205.3 191.5 205.3 192.2 205.3 192.9 205.3 193.5 205.4 194.2 205.4 194.9 205.4 195.5 205.4 196.2 205.5 196.9 205.5 197.5 205.5 198.2 205.6 198.9 205.6 199.5 205.6 200.2 205.6 200.9 205.7 201.5 205.7 202.2 205.7 202.9 205.8 203.5 205.8 204.2 205.8 204.9 205.8 205.5 205.9 206.2 205.9 206.9 205.9 207.5 206.0 208.2 206.0 208.9 206.0 209.5 206.1 210.2 206.1 210.9 206.1 211.5 206.2 212.2 206.2 212.9 206.2 213.5 206.2 214.2 206.3 214.9 206.3 215.5 206.3 216.2 206.4 216.9 206.4 217.5 206.4 218.2 206.5 218.9 206.5 219.5 206.5 220.2 206.6 220.8 206.6 221.5 206.6 222.2 206.7 222.8 206.7 223.5 206.7 224.2 206.8 224.8 206.8 225.5 206.9 226.2 206.9 226.8 206.9 227.5 207.0 228.2 207.0 228.8 207.0 229.5 207.1 230.2 207.1 230.8 207.1 231.5 207.2 232.2 207.2 232.8 207.2 233.5 207.3 234.2 207.3 234.8 207.3 235.5 207.4 236.2 207.4 236.8 207.4 237.5 207.5 238.2 207.5 238.8 207.5 239.5 207.6 240.2 207.6 240.8 207.6 241.5 207.7 242.2 207.7 242.8 207.7 243.5 207.8 244.2 207.8 244.8 207.8 245.5 207.9 246.2 207.9 246.8 207.9 247.5 208.0 248.1 208.0 248.8 208.0 249.5 208.1 250.1 208.1 250.8 208.1 251.5 208.2 252.1 208.2 252.8 208.2 253.5 208.3 254.1 208.3 254.8 208.3 255.5 208.4 256.1 208.4 256.8 208.4 257.5 208.4 258.1 208.5 258.8 208.5 259.5 208.5 260.1 208.6 260.8 208.6 261.5 208.6 262.1 208.7 262.8 208.7 263.5 208.7 264.1 208.7 264.8 208.8 265.5 208.8 266.1 208.8 266.8 208.8 267.5 208.9 268.1 208.9 268.8 208.9 269.5 208.9 270.1 209.0 270.8 209.0 271.5 209.0 272.2 209.0 272.8 209.1 273.5 209.1 274.2 209.1 274.8 209.1 275.5 209.1 276.2 209.2 276.8 209.2 277.5 209.2 278.2 209.2 278.8 209.2 279.5 209.3 280.2 209.3 280.8 209.3 281.5 209.3 282.2 209.3 282.8 209.3 283.5 209.3 284.2 209.4 284.8 209.4 285.5 209.4 286.2 209.4 286.8 209.4 287.5 209.4 288.2 209.4 288.8 209.4 289.5 209.4 290.2 209.4 290.8 209.4 291.5 209.5 292.2 209.5 292.8 209.5 293.5 209.5 294.2 209.5 294.8 209.5 295.5 209.5 296.2 209.5 296.8 209.5 297.5 209.5 298.2 209.5 298.8 209.5 299.5 209.5 300.2 209.6 300.8 209.6 301.5 209.6 302.2 209.6 302.8 209.6 303.5 209.6 304.2 209.6 304.8 209.6 305.5 209.7 306.2 209.7 306.8 209.7 307.5 209.7 308.2 209.7 308.8 209.7 309.5 209.8 310.2 209.8 310.8 209.8 311.5 209.9 312.2 209.9 312.8 209.9 313.5 209.9 314.2 210.0 314.8 210.0 315.5 210.1 316.2 210.1 316.8 210.1 317.5 210.2 318.2 210.2 318.8 210.3 319.5 210.3 320.2 210.4 320.8 210.4 321.5 210.5 322.2 210.5 322.8 210.6 323.5 210.7 324.2 210.7 324.8 210.8 325.5 210.8 326.2 210.9 326.8 211.0 327.5 211.0 328.1 211.1 328.8 211.1 329.5 211.2 330.1 211.2 330.8 211.3 331.5 211.3 332.1 211.4 332.8 211.4 333.5 211.5 334.1 211.5 334.8 211.5 335.5 211.6 336.1 211.6 336.8 211.7 337.4 211.7 338.1 211.8 338.8 211.8 339.5 211.9 340.1 211.9 340.8 212.0 341.5 212.0 342.1 212.1 342.8 212.1 343.5 212.2 344.2 212.3 344.8 212.3 345.5 212.4 346.2 212.5 346.8 212.5 347.5 212.6 348.1 212.7 348.8 212.7 349.5 212.8 350.1 212.9 350.7 212.9 351.4 213.0 352.0 213.1 352.6 213.1 353.3 213.2 353.9 213.3 354.6 213.5 355.3 213.6 356.0 213.8 356.7 214.1 357.4 214.3 358.2 214.6 358.9 214.9 359.4 215.2 359.7 215.5 359.6 215.8 359.2 216.1 358.7 216.3 357.9 216.6 357.1 216.8 356.3 217.0 355.5 217.2 354.8 217.4 354.1 217.5 353.4 217.7 352.8 217.8 352.2 218.0 351.6 218.1 351.0 218.2 350.4 218.3 349.8 218.4 349.1 218.5 348.5 218.6 347.9 218.7 347.2 218.8 346.5 218.9 345.9 219.0 345.2 219.1 344.5 219.2 343.9 219.3 343.2 219.4 342.5 219.5 341.8 219.6 341.2 219.7 340.5 219.8 339.8 219.9 339.1 219.9 338.5 220.0 337.8 220.1 337.1 220.2 336.5 220.3 335.8 220.4 335.2 220.5 334.5 220.6 333.8 220.7 333.2 220.8 332.5 220.9 331.9 221.0 331.2 221.1 330.5 221.2 329.9 221.3 329.2 221.4 328.6 221.5 327.9 221.6 327.3 221.7 326.6 221.8 326.0 221.9 325.3 222.1 324.7 222.2 324.0 222.3 323.3 222.4 322.7 222.5 322.0 222.6 321.4 222.7 320.7 222.8 320.1 223.0 319.4 223.1 318.7 223.2 318.1 223.3 317.4 223.5 316.8 223.6 316.1 223.7 315.5 223.8 314.8 224.0 314.1 224.1 313.5 224.3 312.8 224.4 312.2 224.6 311.5 224.7 310.9 224.9 310.2 225.1 309.6 225.3 308.9 225.5 308.3 225.6 307.7 225.8 307.0 226.1 306.4 226.3 305.8 226.5 305.2 226.7 304.5 227.0 303.9 227.2 303.3 227.5 302.7 227.7 302.1 228.0 301.5 228.3 300.9 228.6 300.4 228.9 299.8 229.2 299.2 229.6 298.6 229.9 298.1 230.3 297.5 230.6 297.0 231.0 296.4 231.4 295.9 231.8 295.4 232.2 294.9 232.6 294.3 233.0 293.8 233.4 293.3 233.8 292.8 234.3 292.3 234.7 291.8 235.1 291.3 235.6 290.8 236.1 290.3 236.5 289.9 237.0 289.4 237.5 288.9 237.9 288.4 238.4 288.0 238.9 287.5 239.4 287.1 239.9 286.6 240.4 286.2 240.9 285.7 241.4 285.3 241.9 284.8 242.4 284.4 242.9 284.0 243.4 283.5 243.9 283.1 244.4 282.7 244.9 282.3 245.4 281.8 246.0 281.4 246.5 281.0 247.0 280.6 247.5 280.2 248.1 279.8 248.6 279.3 249.1 278.9 249.7 278.5 250.2 278.1 250.7 277.7 251.3 277.3 251.8 276.9 252.3 276.5 252.9 276.1 253.4 275.7 253.9 275.3 254.5 274.9 255.0 274.5 255.5 274.1 256.1 273.7 256.6 273.3 257.1 272.9 257.7 272.5 258.2 272.1 258.7 271.7 259.3 271.3 259.8 270.9 260.3 270.4 260.9 270.0 261.4 269.6 261.9 269.2 262.4 268.8 263.0 268.4 263.5 268.0 264.0 267.6 264.5 267.1 265.0 266.7 265.6 266.3 266.1 265.9 266.6 265.5 267.1 265.1 267.6 264.6 268.1 264.2 268.7 263.8 269.2 263.4 269.7 263.0 270.2 262.5 270.7 262.1 271.2 261.7 271.8 261.3 272.3 260.9 272.8 260.4 273.3 260.0 273.8 259.6 274.3 259.2 274.9 258.8 275.4 258.4 275.9 257.9 276.4 257.5 276.9 257.1 277.5 256.7 278.0 256.3 278.5 255.9 279.0 255.5 279.6 255.1 280.1 254.7 280.6 254.2 281.2 253.8 281.7 253.4 282.2 253.0 282.8 252.6 283.3 252.2 283.8 251.8 284.4 251.4 284.9 251.0 285.4 250.6 286.0 250.2 286.5 249.8 287.1 249.4 287.6 249.0 288.1 248.6 288.7 248.2 289.2 247.8 289.8 247.4 290.3 247.0 290.8 246.6 291.3 246.2 291.9 245.8 292.4 245.4 292.9 245.0 293.4 244.6 294.0 244.1 294.5 243.7 295.0 243.3 295.5 242.9 296.0 242.4 296.5 242.0 297.0 241.5 297.5 241.1 298.0 240.6 298.5 240.2 298.9 239.7 299.4 239.3 299.9 238.8 300.3 238.3 300.8 237.8 301.2 237.3 301.7 236.9 302.1 236.4 302.6 235.9 303.0 235.4 303.4 234.8 303.8 234.3 304.3 233.8 304.7 233.3 305.1 232.8 305.5 232.2 305.9 231.7 306.3 231.2 306.7 230.6 307.1 230.1 307.4 229.5 307.8 229.0 308.2 228.4 308.6 227.9 309.0 227.3 309.3 226.8 309.7 226.2 310.1 225.6 310.4 225.1 310.8 224.5 311.1 223.9 311.5 223.4 311.8 222.8 312.2 222.2 312.5 221.6 312.9 221.1 313.2 220.5 313.5 219.9 313.9 219.3 314.2 218.7 314.6 218.1 314.9 217.6 315.2 217.0 315.5 216.4 315.9 215.8 316.2 215.2 316.5 214.6 316.9 214.1 317.2 213.5 317.5 212.9 317.9 212.3 318.2 211.8 318.6 211.2 318.9 210.6 319.3 210.1 319.7 209.5 320.0 209.0 320.4 208.5 320.8 207.9 321.2 207.4 321.7 206.9 322.1 206.4 322.6 205.9 323.0 205.5 323.5 205.0 324.0 204.6 324.5 204.1 325.1 203.7 325.7 203.3 326.2 202.9 326.8 202.6 327.4 202.2 328.0 201.9 328.6 201.7 329.3 201.5 329.9 201.4 330.5 201.3 331.1 201.2 331.8 201.3 332.4 201.4 333.0 201.6 333.6 201.9 334.1 202.2 334.7 202.5 335.3 202.9 335.8 203.4 336.3 203.9 336.8 204.3 337.3 204.8 337.8 205.4 338.3 205.9 338.7 206.4 339.1 206.9 339.5 207.5 339.9 208.0 340.3 208.6 340.7 209.1 341.0 209.7 341.4 210.3 341.7 210.8 342.1 211.4 342.4 212.0 342.7 212.6 343.0 213.1 343.3 213.7 343.6 214.3 343.8 214.9 344.1 215.5 344.4 216.1 344.6 216.7 344.9 217.3 345.2 217.9 345.4 218.6 345.7 219.2 345.9 219.8 346.2 220.4 346.4 221.0 346.7 221.6 346.9 222.3 347.1 222.9 347.3 223.5 347.6 224.1 347.8 224.8 348.0 225.4 348.2 226.0 348.5 226.7 348.7 227.3 348.9 227.9 349.1 228.6 349.3 229.2 349.5 229.9 349.7 230.5 349.9 231.1 350.1 231.8 350.3 232.4 350.5 233.1 350.7 233.7 350.9 234.3 351.0 235.0 351.2 235.6 351.4 236.3 351.6 236.9 351.8 237.6 352.0 238.2 352.1 238.9 352.3 239.5 352.5 240.2 352.7 240.8 352.8 241.4 353.0 242.1 353.2 242.7 353.4 243.4 353.5 244.0 353.7 244.7 353.9 245.3 354.0 246.0 354.2 246.6 354.4 247.2 354.5 247.9 354.7 248.5 354.9 249.2 355.0 249.8 355.2 250.5 355.4 251.1 355.5 251.8 355.7 252.4 355.8 253.0 356.0 253.7 356.2 254.3 356.3 255.0 356.5 255.6 356.6 256.3 356.8 256.9 356.9 257.6 357.1 258.2 357.3 258.9 357.4 259.5 357.6 260.1 357.7 260.8 357.9 261.4 358.0 262.1 358.2 262.7 358.3 263.4 358.5 264.1 358.6 264.7 358.8 265.4 358.9 266.0 359.1 266.7 359.2 267.3 359.4 268.0 359.5 268.6 359.7 269.3 359.8 269.9 360.0 270.6 360.1 271.2 360.3 271.9 360.5 272.5 360.6 273.2 360.8 273.8 360.9 274.5 361.1 275.1 361.3 275.8 361.4 276.4 361.6 277.1 361.8 277.7 361.9 278.4 362.1 279.0 362.3 279.7 362.5 280.3 362.7 281.0 362.8 281.6 363.0 282.2 363.2 282.9 363.4 283.5 363.6 284.1 363.8 284.8 364.0 285.4 364.2 286.0 364.5 286.6 364.7 287.3 364.9 287.9 365.1 288.5 365.3 289.1 365.6 289.7 365.8 290.3 366.0 291.0 366.3 291.6 366.5 292.2 366.7 292.8 367.0 293.4 367.2 294.0 367.5 294.7 367.7 295.3 367.9 295.9 368.2 296.6 368.4 297.2 368.7 297.8 368.9 298.5 369.1 299.1 369.3 299.8 369.6 300.4 369.8 301.1 370.0 301.7 370.3 302.4 370.5 303.0 370.8 303.6 371.1 304.3 371.3 304.9 371.6 305.5 371.9 306.1 372.3 306.7 372.6 307.3 373.0 307.8 373.4 308.4 373.8 308.9 374.2 309.4 374.7 309.9 375.2 310.4 375.7 310.8 376.2 311.2 376.7 311.6 377.2 312.0 377.8 312.3 378.3 312.7 378.9 313.0 379.5 313.2 380.1 313.5 380.7 313.7 381.3 313.9 381.9 314.1 382.6 314.2 383.2 314.3 383.8 314.4 384.5 314.4 385.1 314.4 385.7 314.4 386.4 314.3 387.0 314.3 387.7 314.2 388.3 314.0 389.0 313.9 389.6 313.7 390.3 313.5 390.9 313.3 391.6 313.1 392.2 312.9 392.9 312.6 393.5 312.4 394.1 312.1 394.8 311.8 395.4 311.5 396.0 311.2 396.6 310.9 397.3 310.6 397.9 310.3 398.5 310.0 399.1 309.7 399.7 309.3 400.3 309.0 400.9 308.7 401.5 308.3 402.0 308.0 402.6 307.6 403.2 307.3 403.8 306.9 404.3 306.6 404.9 306.2 405.5 305.8 406.0 305.5 406.6 305.1 407.1 304.7 407.7 304.3 408.2 303.9 408.8 303.6 409.3 303.2 409.9 302.8 410.4 302.4 411.0 302.0 411.5 301.6 412.0 301.2 412.6 300.8 413.1 300.4 413.6 300.0 414.2 299.6 414.7 299.2 415.2 298.8 415.8 298.4 416.3 298.0 416.8 297.6 417.3 297.2 417.9 296.8 418.4 296.4 418.9 296.0 419.4 295.6 420.0 295.3 420.5 294.9 421.0 294.5 421.6 294.1 422.1 293.7 422.6 293.3 423.2 292.9 423.7 292.5 424.2 292.1 424.8 291.7 425.3 291.4 425.9 291.0 426.4 290.6 426.9 290.2 427.5 289.9 428.0 289.5 428.6 289.2 429.1 288.8 429.7 288.4 430.3 288.1 430.8 287.7 431.4 287.4 432.0 287.1 432.5 286.7 433.1 286.4 433.7 286.1 434.3 285.7 434.8 285.4 435.4 285.1 436.0 284.7 436.6 284.4 437.2 284.1 437.7 283.8 438.3 283.4 438.9 283.1 439.5 282.8 440.1 282.4 440.6 282.1 441.2 281.7 441.8 281.4 442.3 281.0 442.9 280.6 443.5 280.3 444.0 279.9 444.6 279.5 445.1 279.1 445.7 278.7 446.3 278.3 446.8 277.9 447.4 277.5 447.9 277.1 448.5 276.7 449.0 276.4 449.6 276.0 450.1 275.6 450.7 275.2 451.2 274.8 451.8 274.4 452.3 274.0 452.9 273.6 453.4 273.3 454.0 272.9 454.6 272.5 455.1 272.2 455.7 271.8 456.3 271.5 456.9 271.2 457.4 270.9 458.0 270.5 458.6 270.2 459.2 269.9 459.8 269.7 460.4 269.4 461.0 269.1 461.6 268.9 462.2 268.6 462.8 268.4 463.4 268.1 464.1 267.9 464.7 267.7 465.3 267.5 465.9 267.3 466.6 267.1 467.2 266.9 467.8 266.7 468.5 266.6 469.1 266.4 469.7 266.2 470.4 266.1 471.0 265.9 471.7 265.8 472.3 265.7 473.0 265.5 473.6 265.4 474.3 265.3 474.9 265.2 475.6 265.1 476.3 265.0 476.9 264.9 477.6 264.8 478.2 264.7 478.9 264.7 479.6 264.6 480.2 264.5 480.9 264.4 481.6 264.4 482.2 264.3 482.9 264.3 483.6 264.2 484.2 264.2 484.9 264.1 485.6 264.1 486.2 264.1 486.9 264.0 487.6 264.0 488.3 264.0 488.9 263.9 489.6 263.9 490.3 263.9 490.9 263.9 491.6 263.9 492.3 263.8 492.9 263.8 493.6 263.8 494.3 263.8 494.9 263.8 495.6 263.8 496.3 263.8 497.0 263.8 497.6 263.8 498.3 263.8 499.0 263.8 499.6 263.8 500.3 263.8 501.0 263.8 501.6 263.8 502.3 263.8 503.0 263.7 503.6 263.7 504.3 263.7 505.0 263.7 505.6 263.7 506.3 263.7 507.0 263.7 507.6 263.7 508.3 263.7 509.0 263.6 509.6 263.6 510.3 263.6 511.0 263.6 511.6 263.5 512.3 263.5 513.0 263.5 513.6 263.4 514.3 263.4 515.0 263.4 515.6 263.3 516.3 263.3 516.9 263.2 517.6 263.2 518.3 263.1 518.9 263.0 519.6 263.0 520.2 262.9 520.9 262.8 521.6 262.7 522.2 262.6 522.9 262.5 523.5 262.4 524.2 262.3 524.8 262.2 525.5 262.1 526.2 262.0 526.8 261.8 527.5 261.7 528.1 261.6 528.8 261.4 529.4 261.2 530.1 261.1 530.7 260.9 531.4 260.7 532.0 260.6 532.7 260.4 533.3 260.2 534.0 259.9 534.6 259.7 535.2 259.5" stroke="#3aa9de" stroke-width="1.45" fill="none" stroke-linejoin="round"/>
<!-- axes -->
<path d="M535.5 385.2H68.8V15.9H535.5" fill="none" stroke="#939393" stroke-width="1.8"/>
<path d="M535.3 15.0V386.1" fill="none" stroke="#7a7a7a" stroke-width="1.5"/>
<path d="M68.8 56.9h4.6M535.5 56.9h-4.6M68.8 98.0h4.6M535.5 98.0h-4.6M68.8 139.0h4.6M535.5 139.0h-4.6M68.8 180.0h4.6M535.5 180.0h-4.6M68.8 221.1h4.6M535.5 221.1h-4.6M68.8 262.1h4.6M535.5 262.1h-4.6M68.8 303.1h4.6M535.5 303.1h-4.6M68.8 344.2h4.6M535.5 344.2h-4.6M135.5 385.2v-4.6M135.5 15.9v4.6M202.1 385.2v-4.6M202.1 15.9v4.6M268.8 385.2v-4.6M268.8 15.9v4.6M335.5 385.2v-4.6M335.5 15.9v4.6M402.2 385.2v-4.6M402.2 15.9v4.6M468.8 385.2v-4.6M468.8 15.9v4.6" stroke="#939393" stroke-width="1.5" fill="none"/>
<g class="tk">
<text x="62.1" y="21.9" text-anchor="end">0.3</text>
<text x="62.1" y="62.9" text-anchor="end">0.25</text>
<text x="62.1" y="104.0" text-anchor="end">0.2</text>
<text x="62.1" y="145.0" text-anchor="end">0.15</text>
<text x="62.1" y="186.0" text-anchor="end">0.1</text>
<text x="62.1" y="227.1" text-anchor="end">0.05</text>
<text x="62.1" y="268.1" text-anchor="end">0</text>
<text x="62.1" y="309.1" text-anchor="end">-0.05</text>
<text x="62.1" y="350.2" text-anchor="end">-0.1</text>
<text x="62.1" y="391.2" text-anchor="end">-0.15</text>
<text x="68.8" y="405.9" text-anchor="middle">0</text>
<text x="135.5" y="405.9" text-anchor="middle">0.1</text>
<text x="202.1" y="405.9" text-anchor="middle">0.2</text>
<text x="268.8" y="405.9" text-anchor="middle">0.3</text>
<text x="335.5" y="405.9" text-anchor="middle">0.4</text>
<text x="402.2" y="405.9" text-anchor="middle">0.5</text>
<text x="468.8" y="405.9" text-anchor="middle">0.6</text>
<text x="535.5" y="405.9" text-anchor="middle">0.7</text>
</g>
<text x="302.2" y="426.9" text-anchor="middle" font-family="Liberation Sans, Arial, sans-serif" font-size="16px" fill="#333" stroke="#333" stroke-width="0.25">Time(s)</text>
<circle cx="19.6" cy="431.8" r="0.7" fill="#999"/>
<text transform="translate(16.2 201.5) rotate(-90)" text-anchor="middle" font-family="Liberation Sans, Arial, sans-serif" font-size="15.17px" font-weight="bold" fill="#111" stroke="#111" stroke-width="0.2">Amplitude (mV): Chest-ECG (Lead I) and Arm-ICG (&#937;/s)</text>
<!-- arrows -->
<path d="M198.4 36.8H333.8M205.6 33.4L198.4 36.8L205.6 40.4M326.9 33.4L333.8 36.8L326.9 40.4" stroke="#26528f" stroke-width="1.5" fill="none"/>
<path d="M299.6 81.8H364.4M306.6 77.6L299.6 81.8L306.6 85.8M357.3 77.6L364.4 81.8L357.3 85.8" stroke="#b35a28" stroke-width="1.6" fill="none"/>
<path d="M274.6 369H431.2M284 363.7L274.6 369L284 374.3M421.8 363.7L431.2 369L421.8 374.3" stroke="#e3141e" stroke-width="1.75" fill="none" stroke-linejoin="round" stroke-linecap="round"/>
<!-- annotations -->
<g class="an" fill="#111" stroke="#111" stroke-width="0.3">
<text transform="translate(209.3 30.8) scale(1 0.93)">Metric (A): R-wave to ICG pulse peak time (s)</text>
<text transform="translate(83.2 84.9) scale(1 0.93)">Metric (B): ICG peak</text>
<text transform="translate(83.2 96.7) scale(1 0.93)">amplitude level (&#937;/s)</text>
<text transform="translate(216.8 200.6) scale(1 0.93)">ICG time B<tspan font-size="6px" dx="0.8" dy="2.5">o</tspan><tspan dy="-2.5"> (s)</tspan></text>
<text transform="translate(385.5 201.7) scale(1 0.93)">ICG time X (s)</text>
</g>
<rect x="281" y="327.5" width="114" height="34" fill="#fff"/>
<g class="an" fill="#a0410f" stroke="#a0410f" stroke-width="0.3">
<text transform="translate(304.9 70.6) scale(1 0.93)">Metric (C): ICG mid-amplitude pulse width (s)</text>
<text transform="translate(382.2 171.9) scale(1 0.93)">ICG mid-amplitude level (&#937;/s)</text>
<text transform="translate(282.6 343.1) scale(1 0.93)">Metric (VET): Ventric.</text>
<text transform="translate(282.6 355.1) scale(1 0.93)">Eject. Time (s) = (X-B<tspan font-size="6px" dx="0.86" dy="2.5">o</tspan><tspan dx="1.2" dy="-2.5">)</tspan></text>
</g>
</svg>
</body></html>
